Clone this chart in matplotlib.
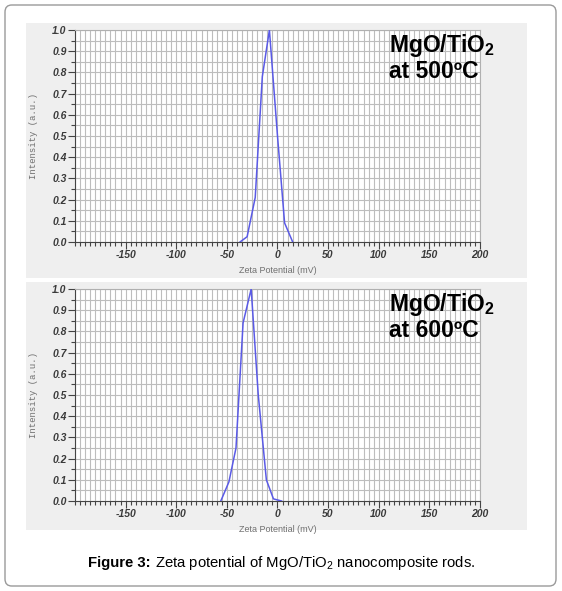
import numpy as np
import matplotlib
matplotlib.use("Agg")
import matplotlib.pyplot as plt
from matplotlib.patches import Rectangle, FancyBboxPatch

plt.rcParams['font.family'] = ['Liberation Sans', 'DejaVu Sans']
plt.rcParams['mathtext.fontset'] = 'custom'
plt.rcParams['mathtext.rm'] = 'Liberation Sans'
plt.rcParams['mathtext.bf'] = 'Liberation Sans:bold'
plt.rcParams['mathtext.it'] = 'Liberation Sans:italic'

# zeta potential (mV) vs intensity (a.u.)
zeta_500 = [-37, -30, -22, -15, -8, 0, 7, 15]
int_500 = [0.0, 0.025, 0.21, 0.78, 1.0, 0.5, 0.09, 0.0]

zeta_600 = [-56, -48, -41, -34, -26, -19, -11, -4, 4]
int_600 = [0.0, 0.09, 0.25, 0.84, 1.0, 0.5, 0.1, 0.01, 0.0]

xticks = [-150, -100, -50, 0, 50, 100, 150, 200]
yticks = [0.0, 0.1, 0.2, 0.3, 0.4, 0.5, 0.6, 0.7, 0.8, 0.9, 1.0]
labels = ["MgO/TiO$_\\mathbf{2}$\nat 500ºC", "MgO/TiO$_\\mathbf{2}$\nat 600ºC"]

W, H = 562, 591
fig = plt.figure(figsize=(W / 100, H / 100), dpi=100)

def fx(px):
    return px / W

def fy(py):
    return 1 - py / H

# outer border and grey panels
fig.patches.append(FancyBboxPatch((fx(5), fy(586)), fx(551), 581 / H,
                                  boxstyle="round,pad=0,rounding_size=0.012",
                                  transform=fig.transFigure, fc="white",
                                  ec="#9a9a9a", lw=1.0, zorder=0))
fig.patches.append(Rectangle((fx(26), fy(278)), fx(501), 255 / H,
                             transform=fig.transFigure, fc="#efefef", ec="none", zorder=0.5))
fig.patches.append(Rectangle((fx(26), fy(530)), fx(501), 248 / H,
                             transform=fig.transFigure, fc="#efefef", ec="none", zorder=0.5))

panels = [(zeta_500, int_500, labels[0], 30), (zeta_600, int_600, labels[1], 289)]

for zx, iy, lab, top in panels:
    ax = fig.add_axes([fx(75), fy(top + 212), fx(405), 212 / H])
    ax.set_zorder(2)
    ax.set_facecolor("white")
    ax.plot(zx, iy, color="#5a5ae6", lw=1.1, zorder=3)
    ax.set_xlim(-200, 200)
    ax.set_ylim(0, 1.0)
    ax.set_xticks(xticks)
    ax.set_yticks(yticks)
    ax.set_xticks(np.arange(-200, 201, 5), minor=True)
    ax.set_yticks(np.arange(0, 1.001, 0.05), minor=True)
    ax.grid(which="both", color="#bdbdbd", lw=0.8)
    ax.set_axisbelow(True)
    for s in ax.spines.values():
        s.set_color("#b0b0b0")
        s.set_linewidth(0.8)
    ax.spines["left"].set_color("#444444")
    ax.spines["bottom"].set_color("#444444")
    ax.tick_params(which="major", direction="out", length=5, width=0.8,
                   color="#444444", pad=1)
    ax.tick_params(which="minor", direction="out", length=3, width=0.8,
                   color="#444444")
    ax.set_xticklabels([str(t) for t in xticks], fontsize=7.5,
                       fontweight="bold", fontstyle="italic", color="#3a3a3a")
    ax.set_yticklabels(["%.1f" % t for t in yticks], fontsize=7.5,
                       fontweight="bold", fontstyle="italic", color="#3a3a3a")
    ax.set_xlabel("Zeta Potential (mV)", fontsize=6.5, color="#707070", labelpad=4)
    ax.set_ylabel("Intensity (a.u.)", fontsize=6.5, color="#707070",
                  family="Liberation Mono", labelpad=10)
    ax.text(0.775, 0.99, lab, transform=ax.transAxes, ha="left", va="top",
            fontsize=16.5, fontweight="bold", color="black", linespacing=1.05,
            zorder=5)

# caption: bold "Figure 3:" then the rest right after it
t1 = fig.text(fx(88), fy(563), "Figure 3:", ha="left", va="center",
              fontsize=10.7, fontweight="bold")
fig.canvas.draw()
bb = t1.get_window_extent()
fig.text((bb.x1 + 4) / W, fy(563), "Zeta potential of MgO/TiO$_2$ nanocomposite rods.",
         ha="left", va="center", fontsize=10.7)

fig.savefig("out.png", dpi=100)
